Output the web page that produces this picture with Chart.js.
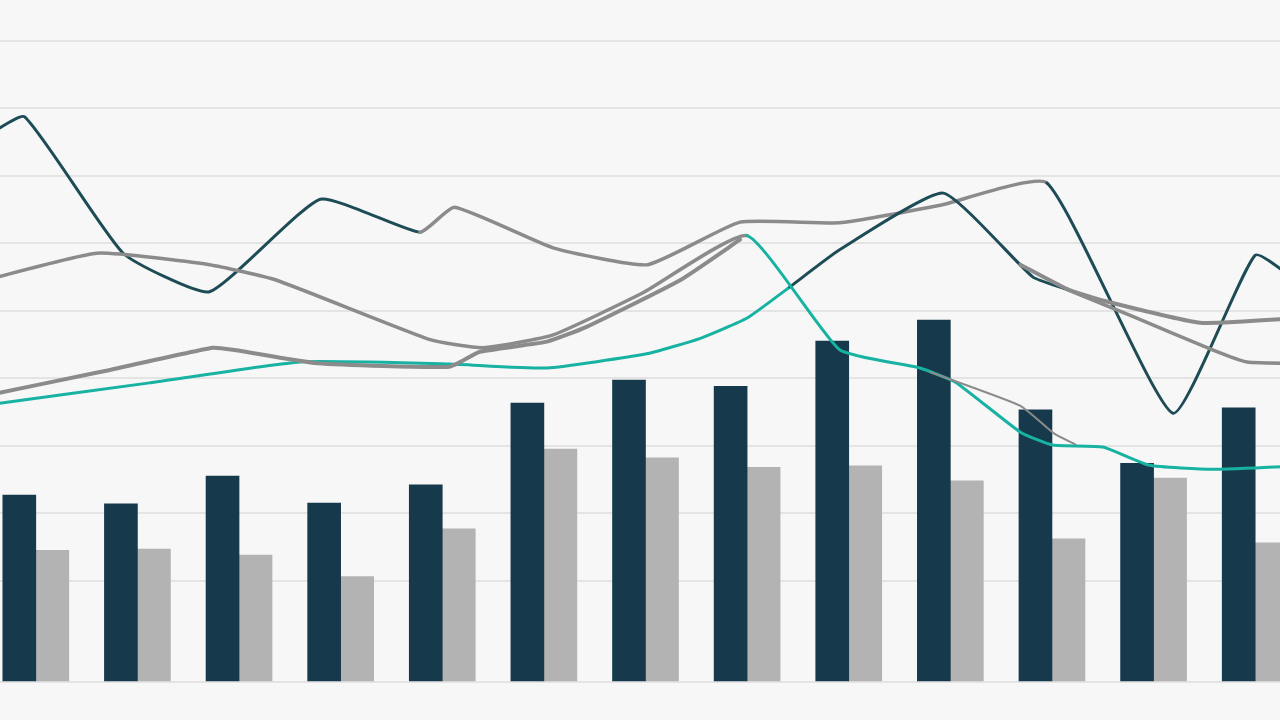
<!DOCTYPE html>
<html>
<head>
<meta charset="utf-8">
<script src="https://cdn.jsdelivr.net/npm/chart.js@4.4.1/dist/chart.umd.min.js"></script>
<style>
  html, body { margin: 0; padding: 0; background: #f7f7f7; overflow: hidden; }
  #wrap { position: absolute; left: -15px; top: 0; width: 1321px; height: 720px; }
</style>
</head>
<body>
<div id="wrap"><canvas id="chart"></canvas></div>
<script>
// categories (no labels are shown in the picture)
const periods = ["P1", "P2", "P3", "P4", "P5", "P6", "P7", "P8", "P9", "P10", "P11", "P12", "P13"];

// bar values
const darkBars = [27.7, 26.4, 30.5, 26.5, 29.2, 41.3, 44.7, 43.8, 50.5, 53.6, 40.3, 32.4, 40.6];
const grayBars = [19.5, 19.7, 18.8, 15.6, 22.7, 34.5, 33.2, 31.8, 32.0, 29.8, 21.2, 30.2, 20.6];

// gridline values
const yGrid = [0, 15, 25, 35, 45, 55, 65, 75, 85, 95];

// lines: x is position in periods (0 = first group), y on the bar scale
const lineAx = [-0.50, -0.11, 0.86, 1.71, 2.80, 3.78, 4.12, 5.09, 6.02, 6.93, 7.91, 8.90, 9.95, 11.19, 12.00, 12.44];
const lineAy = [80.7, 83.7, 63.5, 57.8, 71.5, 66.6, 70.3, 64.3, 61.8, 68.1, 68.0, 70.6, 73.9, 39.8, 63.2, 59.0];

const lineBx = [-0.50, 0.60, 1.71, 2.37, 3.88, 4.40, 5.09, 5.97, 7.00, 7.91, 8.70, 9.05, 9.69, 10.01, 10.50, 10.96, 11.58, 12.44];
const lineBy = [59.5, 63.5, 61.8, 59.5, 50.7, 49.5, 51.4, 57.6, 66.1, 49.2, 46.5, 44.4, 37.0, 35.1, 34.8, 32.1, 31.5, 32.0];

const lineCx = [-0.50, 1.12, 2.60, 4.07, 5.03, 6.01, 6.54, 7.00, 7.42, 7.91, 8.93, 9.81, 10.15, 10.80, 11.58, 11.92, 12.44];
const lineCy = [41.0, 44.3, 47.4, 47.1, 46.5, 48.6, 50.9, 53.9, 58.5, 64.0, 72.4, 60.0, 58.1, 54.1, 49.2, 47.4, 47.2];

const lineDx = [-0.50, 0.63, 1.74, 1.94, 2.77, 4.07, 4.37, 5.03, 5.42, 6.34, 6.93];
const lineDy = [42.4, 45.9, 49.5, 49.2, 47.2, 46.7, 48.9, 50.4, 52.6, 59.5, 65.5];

const lineEx = [9.69, 10.15, 10.47, 11.46, 12.44];
const lineEy = [61.8, 58.2, 56.6, 53.2, 53.9];

const lineFx = [8.80, 9.69, 10.03, 10.23];
const lineFy = [45.9, 40.9, 36.7, 35.2];

const DARK = "#1d4c57";
const GREY = "#8b8b8b";
const TEAL = "#17b2a2";

function pts(xs, ys) {
  return xs.map((x, i) => ({ x: x, y: ys[i] }));
}

// pick the colour of a segment from the index where each colour starts
function pick(starts, i) {
  let c = starts[0][1];
  starts.forEach(s => { if (i >= s[0]) c = s[1]; });
  return c;
}

function line(data, color, width, starts) {
  const ds = {
    type: "line",
    xAxisID: "x2",
    data: data,
    borderColor: color,
    borderWidth: width,
    pointRadius: 0,
    tension: 0.15,
    borderJoinStyle: "round",
    borderCapStyle: "round",
    fill: false,
    order: 0
  };
  if (starts) {
    ds.segment = {
      borderColor: ctx => pick(starts, ctx.p0DataIndex),
      borderWidth: ctx => pick(starts, ctx.p0DataIndex) === GREY ? 3.5 : width
    };
  }
  return ds;
}

new Chart(document.getElementById("chart"), {
  data: {
    labels: periods,
    datasets: [
      line(pts(lineFx, lineFy), GREY, 2),
      line(pts(lineDx, lineDy), GREY, 4),
      line(pts(lineEx, lineEy), GREY, 4),
      line(pts(lineBx, lineBy), GREY, 3, [[0, GREY], [8, TEAL]]),
      line(pts(lineCx, lineCy), TEAL, 3, [[0, TEAL], [8, DARK], [12, GREY]]),
      line(pts(lineAx, lineAy), DARK, 3, [[0, DARK], [5, GREY], [12, DARK]]),
      {
        type: "bar",
        data: darkBars,
        backgroundColor: "#163a4c",
        barThickness: 33,
        order: 1
      },
      {
        type: "bar",
        data: grayBars,
        backgroundColor: "#b3b3b3",
        barThickness: 33,
        order: 1
      }
    ]
  },
  options: {
    responsive: true,
    maintainAspectRatio: false,
    animation: false,
    layout: { padding: { top: 0, bottom: 38, left: 0, right: 0 } },
    plugins: { legend: { display: false }, tooltip: { enabled: false } },
    scales: {
      x: { display: false },
      x2: { type: "linear", display: false, min: -0.5, max: 12.5 },
      y: {
        min: 0,
        max: 101,
        border: { display: false },
        ticks: { display: false },
        grid: { color: "#e4e4e4", lineWidth: 2, drawTicks: false },
        afterBuildTicks: s => { s.ticks = yGrid.map(v => ({ value: v })); }
      }
    }
  }
});
</script>
</body>
</html>
